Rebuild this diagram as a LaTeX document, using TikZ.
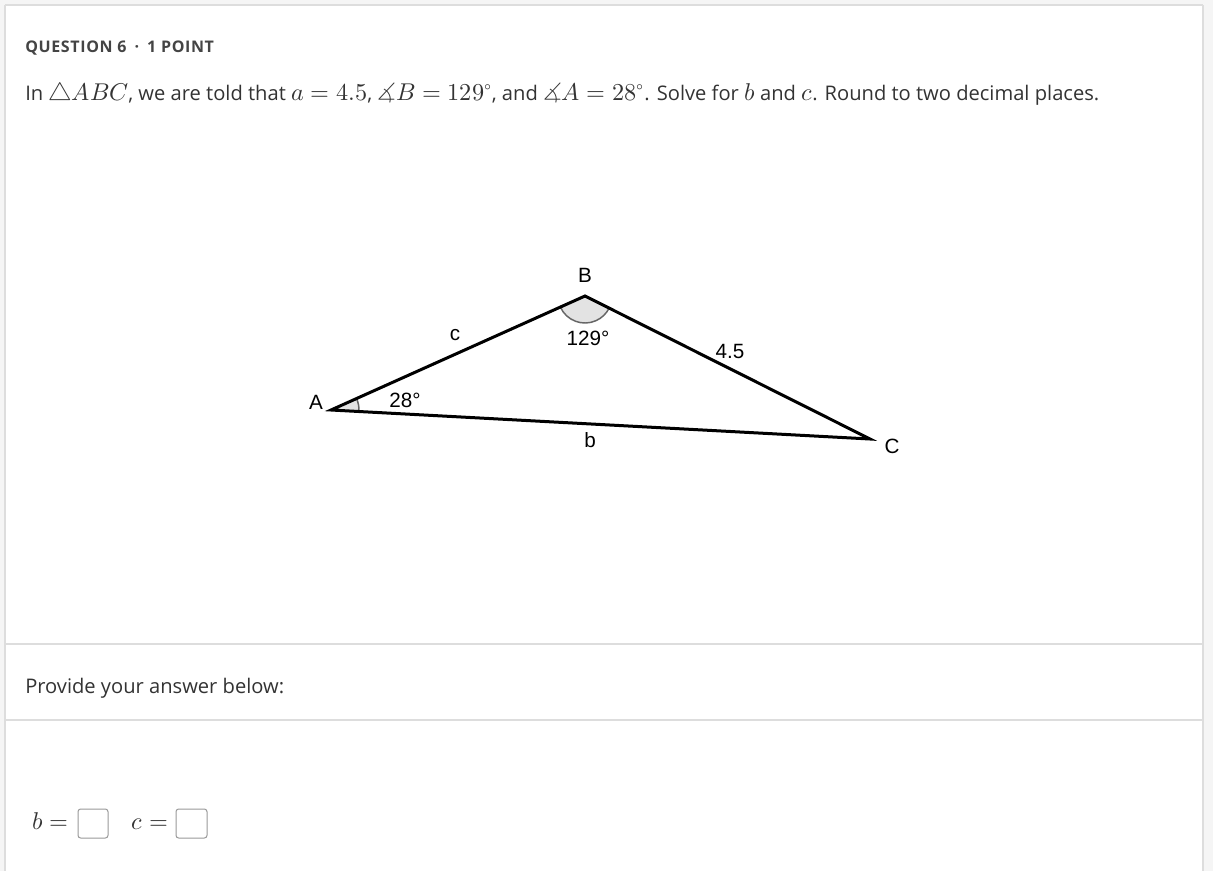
\documentclass[tikz,border=0pt]{standalone}
\usepackage{fontspec}
\usepackage{unicode-math}
\setmainfont{Open Sans}
\setmathfont{Latin Modern Math}
\newfontfamily\arial{Liberation Sans}
\definecolor{pagebg}{HTML}{F5F5F5}
\definecolor{cardline}{HTML}{DDDDDD}
\definecolor{txt}{HTML}{333333}
\definecolor{hdr}{HTML}{444444}
\definecolor{boxline}{HTML}{999999}
\definecolor{anglefill}{HTML}{E3E3E3}
\definecolor{anglearc}{HTML}{666666}
\newcommand\mth[1]{{\fontsize{18.2pt}{22pt}\selectfont$#1$}}
\begin{document}
\begin{tikzpicture}[x=0.75pt,y=-0.75pt,
  txtnode/.style={anchor=base west,inner sep=0pt,text=txt,font=\fontsize{15.1pt}{18pt}\selectfont},
  lbl/.style={anchor=base,inner sep=0pt,text=black,font=\arial\fontsize{15.5pt}{18pt}\selectfont},
  tri/.style={line width=2.25pt,black},
  ansbox/.style={draw=boxline,line width=0.75pt,rounded corners=2pt,fill=white},
  sep/.style={draw=cardline,line width=1.1pt}]
\useasboundingbox (0,0) rectangle (1213,871);
\fill[pagebg] (0,0) rectangle (1213,871);
\fill[white] (5,5) rectangle (1203,871);
\draw[sep] (5,5) -- (1203,5);
\draw[sep] (5,5) -- (5,871);
\draw[sep] (1203,5) -- (1203,871);

\node[anchor=base west,inner sep=0pt,text=hdr,font=\addfontfeatures{LetterSpace=4}\bfseries\fontsize{12pt}{14pt}\selectfont] (hdr) at (25,52) {QUESTION 6\hspace{6pt}·\hspace{6pt}1 POINT};

\node[txtnode] (q) at (25,100) {In \mth{\triangle ABC}, we are told that \mth{a=4.5}, \mth{\measuredangle B=129^\circ}, and \mth{\measuredangle A=28^\circ}. Solve for \mth{b} and \mth{c}. Round to two decimal places.};

% triangle
\coordinate (A) at (331,410);
\coordinate (B) at (585,296);
\coordinate (C) at (870,439);
\fill[anglefill] (B) -- ++(204.2:20.25pt) arc[start angle=204.2,end angle=333.4,radius=20.25pt] -- cycle;
\draw[anglearc,line width=1.1pt] (B) ++(204.2:20.25pt) arc[start angle=204.2,end angle=333.4,radius=20.25pt];
\fill[anglefill] (A) -- ++(-3.08:21pt) arc[start angle=-3.08,end angle=24.2,radius=21pt] -- cycle;
\draw[anglearc,line width=1.1pt] (A) ++(-3.08:21pt) arc[start angle=-3.08,end angle=24.2,radius=21pt];
\draw[tri] (A) -- (B) -- (C) -- cycle;

\node[lbl] (lB) at (585,282) {B};
\node[lbl] (lA) at (316,409) {A};
\node[lbl] (lC) at (892,453) {C};
\node[lbl] (lc) at (455,340) {c};
\node[lbl] (lb) at (590,447) {b};
\node[lbl] (l45) at (730,358) {4.5};
\node[lbl] (l129) at (588,345) {129°};
\node[lbl] (l28) at (405,407) {28°};

\draw[sep] (5,644) -- (1203,644);
\node[txtnode] (prov) at (25,693) {Provide your answer below:};
\draw[sep] (5,720) -- (1203,720);

\node[anchor=base west,inner sep=0pt,text=txt] (beq) at (32,829) {\mth{b=}};
\draw[ansbox] (78,809) rectangle (108,838);
\node[anchor=base west,inner sep=0pt,text=txt] (ceq) at (131,829) {\mth{c=}};
\draw[ansbox] (176,809) rectangle (207,838);
\end{tikzpicture}
\end{document}
